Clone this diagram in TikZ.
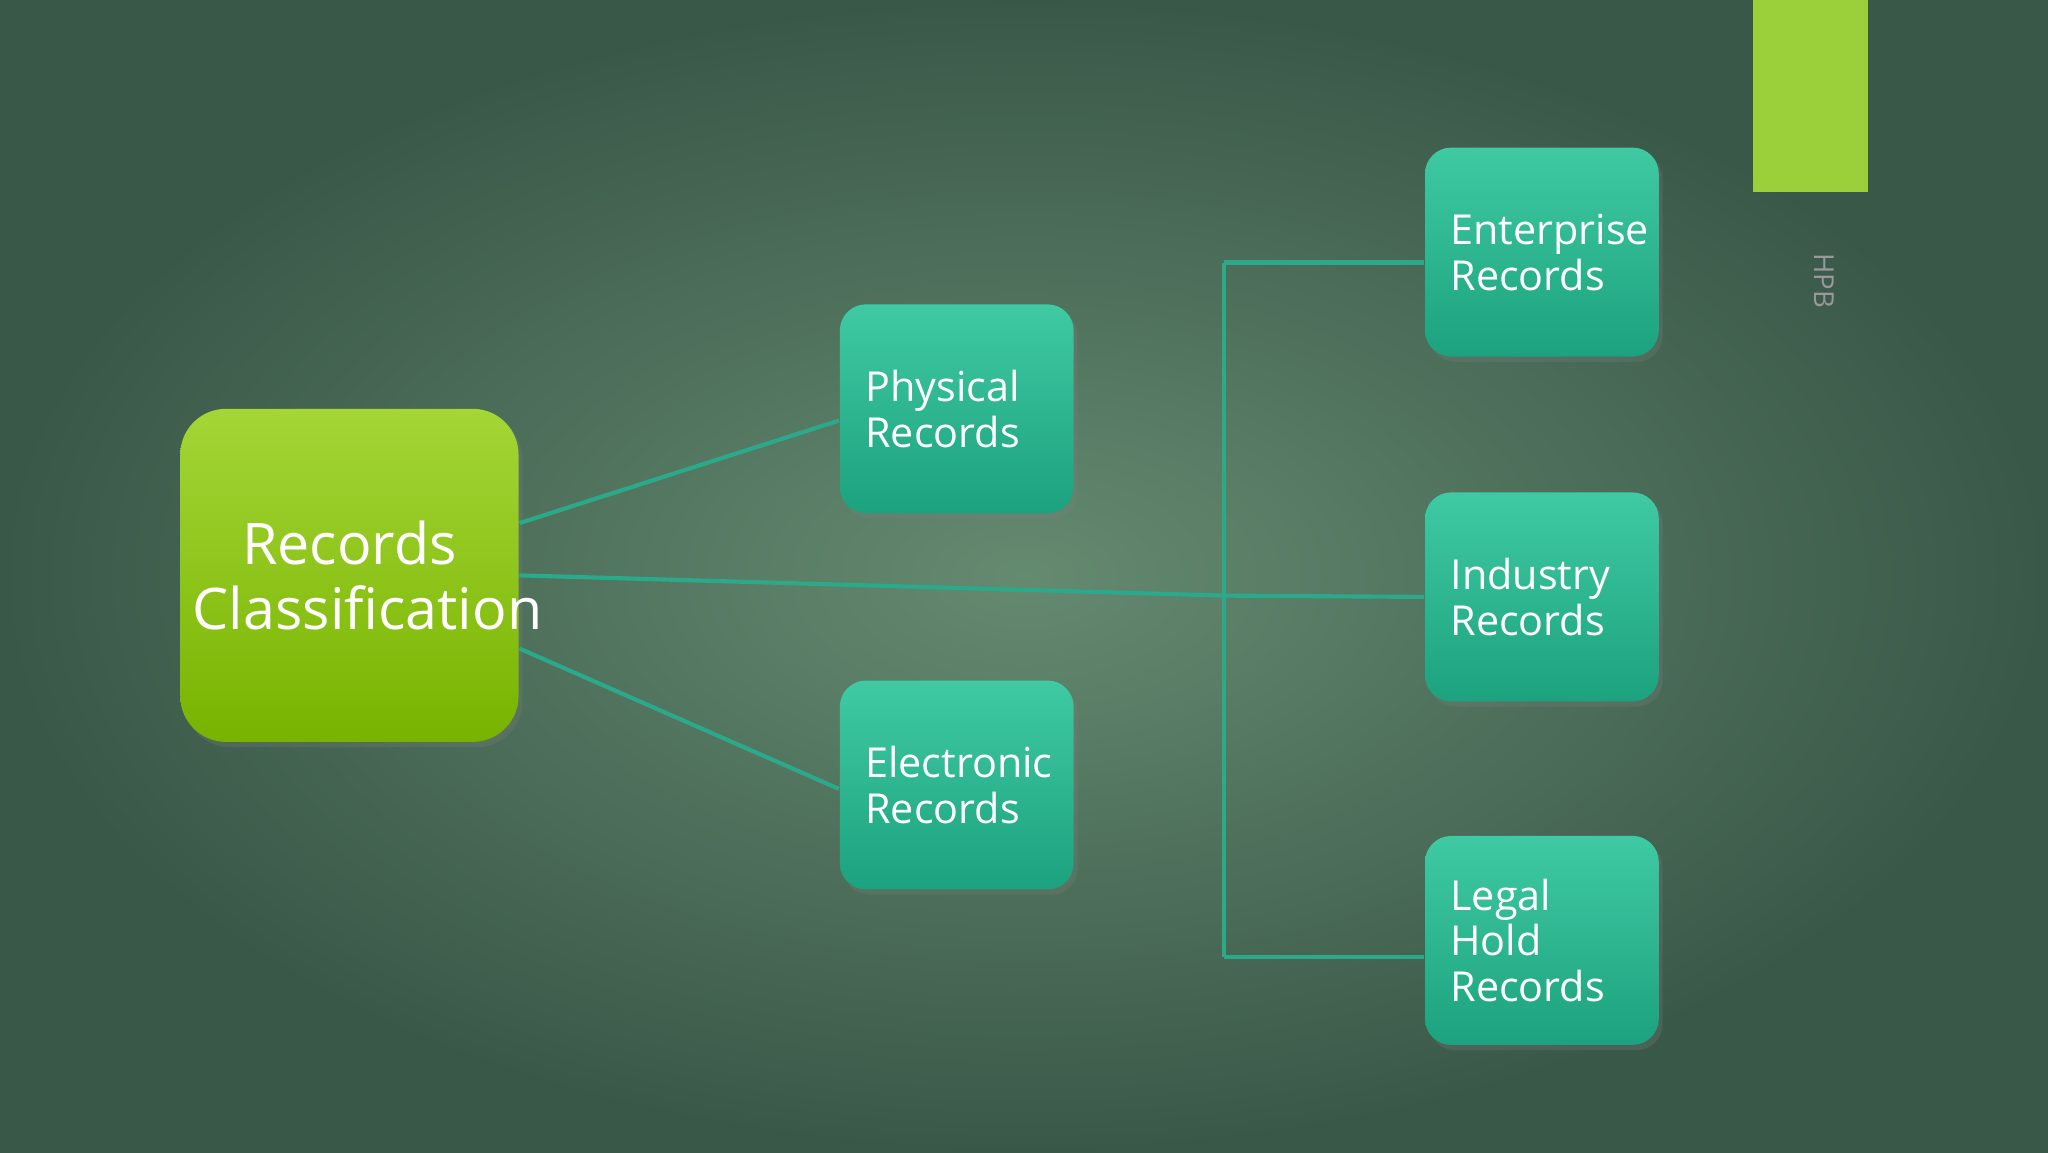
\documentclass[tikz,border=0pt]{standalone}
\usepackage{fontspec}
\setmainfont{Open Sans}
\usetikzlibrary{positioning,shadows}

\definecolor{bgmid}{HTML}{648A70}
\definecolor{bgedge}{HTML}{3A5848}
\definecolor{limetop}{HTML}{A4D636}
\definecolor{limebot}{HTML}{78B300}
\definecolor{tealtop}{HTML}{3FCAA3}
\definecolor{tealbot}{HTML}{1CA27E}
\definecolor{linkcol}{HTML}{2BAA8B}
\definecolor{barcol}{HTML}{9CD03A}

\tikzset{
  rootbox/.style={rounded corners=0.35cm, minimum width=2.59cm, minimum height=2.55cm,
    inner sep=0pt, text width=2.4cm, top color=limetop, bottom color=limebot, draw=none,
    text=white, align=center, font=\fontsize{12.5}{14}\selectfont,
    drop shadow={opacity=0.25, shadow xshift=0.03cm, shadow yshift=-0.04cm}},
  leafbox/.style={rounded corners=0.2cm, minimum width=1.79cm, minimum height=1.60cm,
    inner sep=0pt, text width=1.4cm, top color=tealtop, bottom color=tealbot, draw=none,
    text=white, align=left, font=\fontsize{9}{10}\selectfont,
    drop shadow={opacity=0.25, shadow xshift=0.03cm, shadow yshift=-0.04cm}},
  link/.style={draw=linkcol, line width=0.9pt}
}

\begin{document}
\begin{tikzpicture}
\useasboundingbox (0,0) rectangle (15.68,8.82);
% background
\shade[inner color=bgmid, outer color=bgedge] (0,0) rectangle (15.68,8.82);
\fill[barcol] (13.42,7.35) rectangle (14.30,8.82);
\node[rotate=-90, text=gray!80, font=\fontsize{6}{7}\selectfont] (tag) at (13.97,6.67) {HPB};

% boxes
\node[rootbox] (root) at (2.675,4.415) {Records\\Classification};
\node[leafbox] (phys) at (7.325,5.69) {Physical\\Records};
\node[leafbox] (elec) at (7.325,2.81) {Electronic\\Records};
\node[leafbox] (ent) at (11.805,6.89) {Enterprise\\Records};
\node[leafbox] (ind) at (11.805,4.25) {Industry\\Records};
\node[leafbox] (legal) at (11.805,1.62) {Legal\\Hold\\Records};

% connectors
\coordinate (bus) at (9.37,4.26);
\draw[link] (root.east) ++(0,0.40) coordinate (r1) -- (phys.west |- 0,5.60);
\draw[link] (root.east) ++(0,-0.56) coordinate (r2) -- (elec.west |- 0,2.78);
\draw[link] (root.east) -- (bus);
\draw[link] (bus |- 0,6.81) -- (bus |- 0,1.49);
\draw[link] (bus |- 0,6.81) -- (ent.west |- 0,6.81);
\draw[link] (bus) -- (ind.west);
\draw[link] (bus |- 0,1.49) -- (legal.west |- 0,1.49);
\end{tikzpicture}
\end{document}
